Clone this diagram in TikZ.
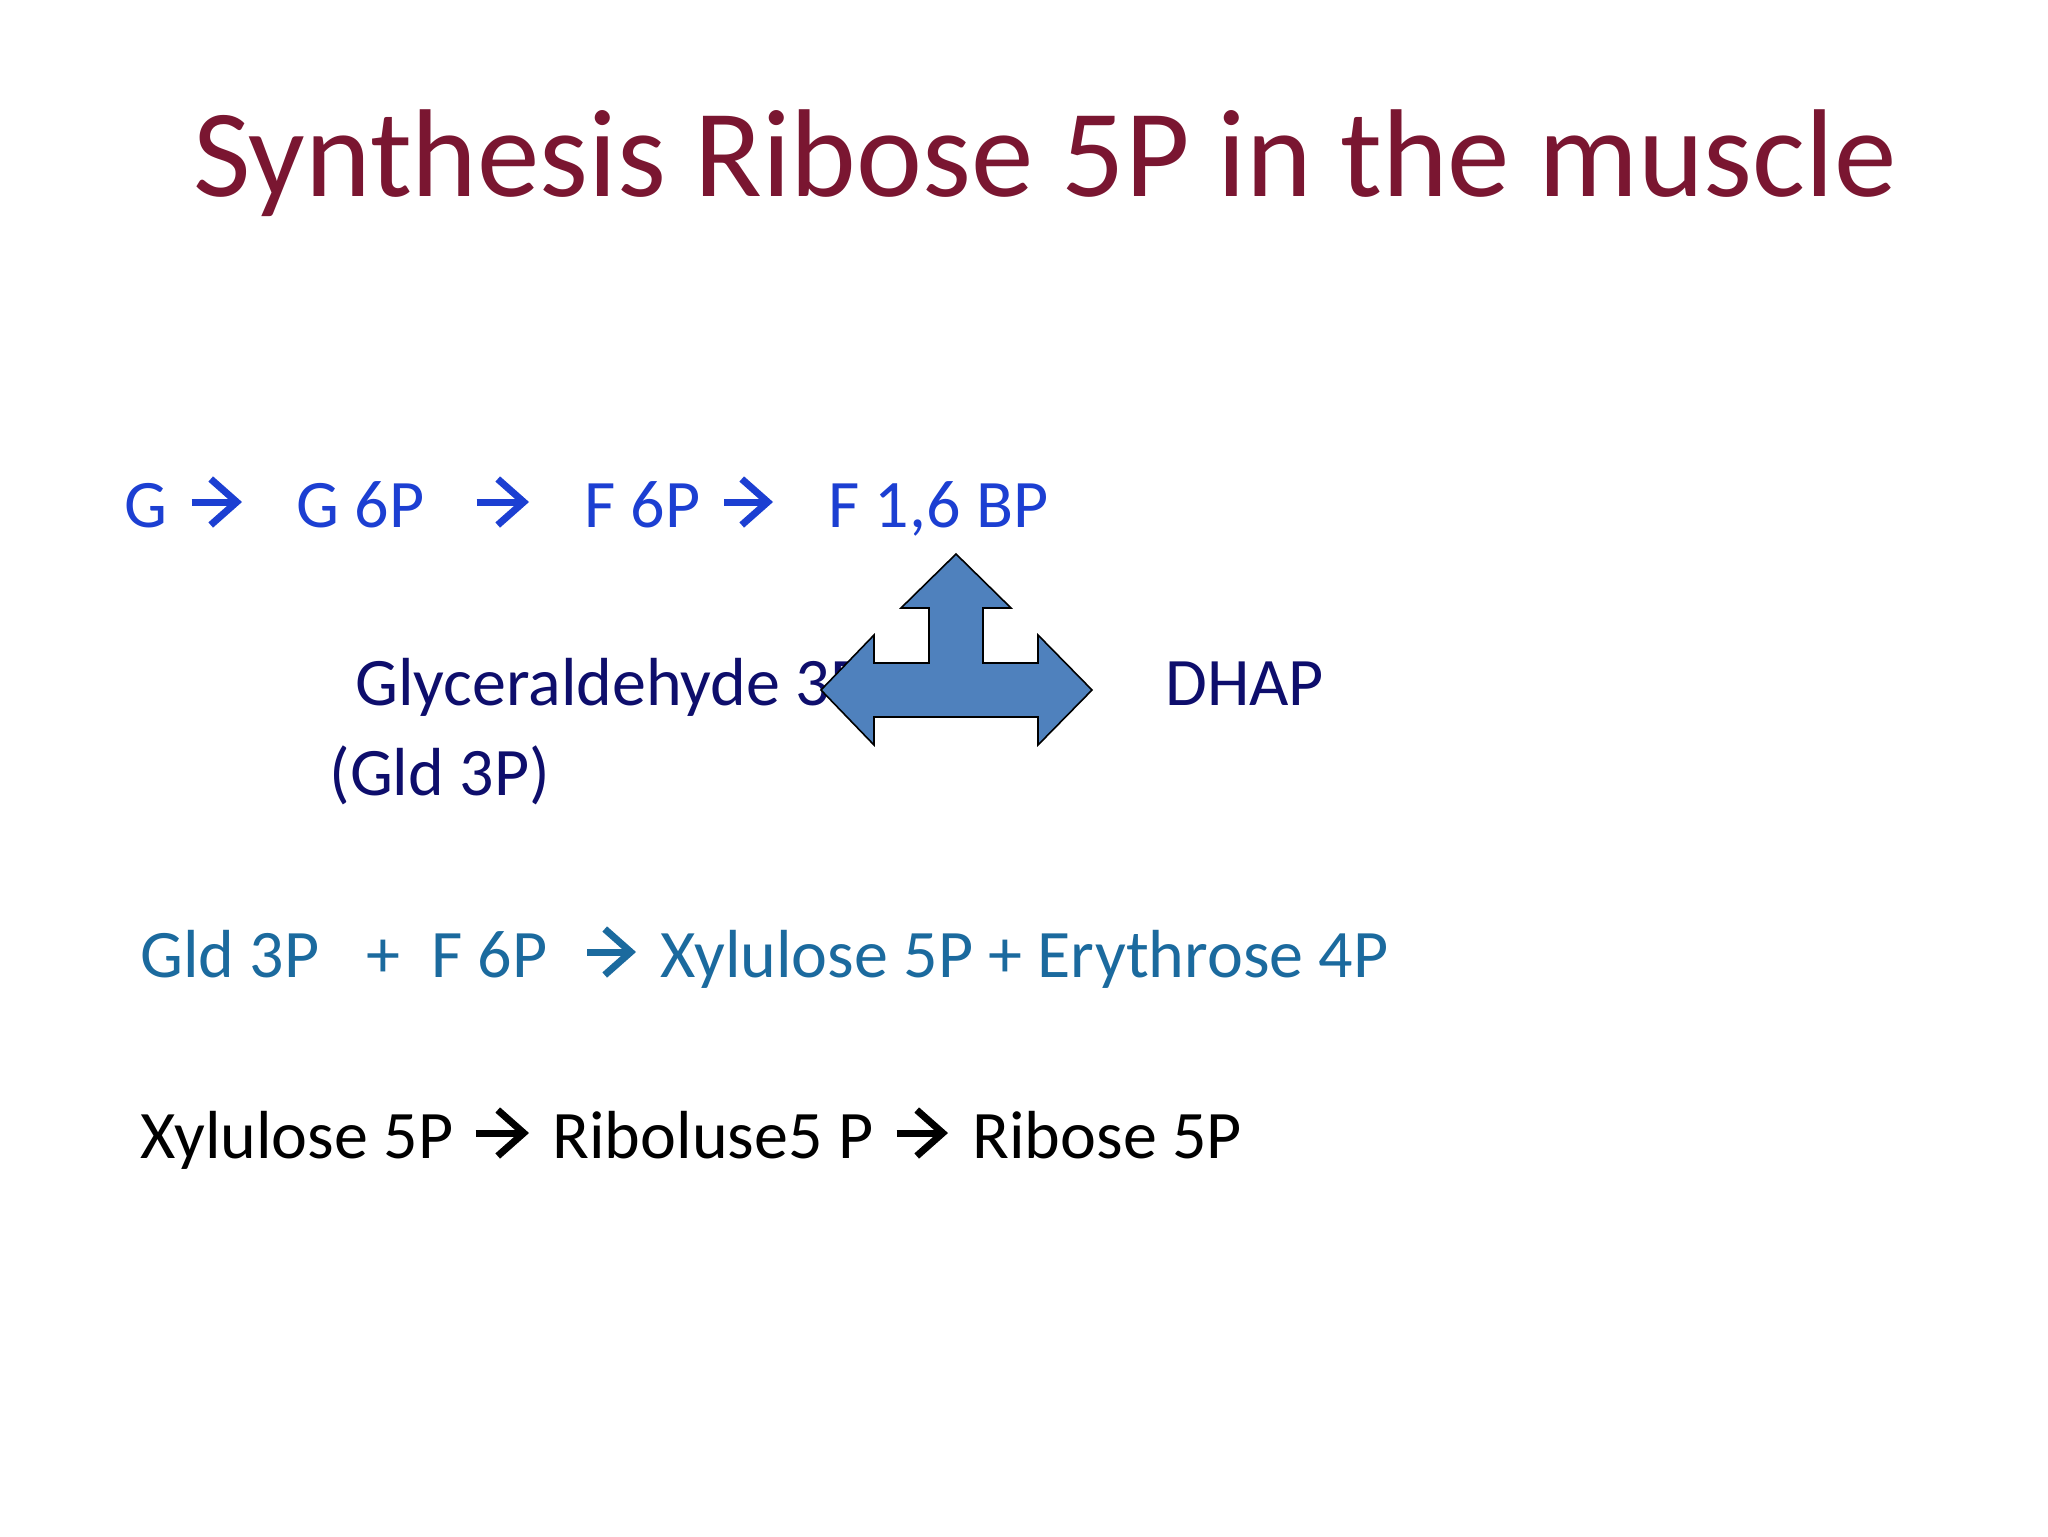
\documentclass[tikz,border=0pt]{standalone}
\usepackage{fontspec}
\setmainfont{Carlito}
\usepackage{xcolor}
\usepackage{tikz}
\usetikzlibrary{arrows.meta}
\definecolor{titlered}{HTML}{7A1631}
\definecolor{glycblue}{HTML}{1C3FD2}
\definecolor{navy}{HTML}{0E0E6C}
\definecolor{pentose}{HTML}{1B6A9E}
\definecolor{shapefill}{HTML}{4F81BD}

\begin{document}
\begin{tikzpicture}[
  x=0.5pt,y=-0.5pt,
  chem/.style={anchor=base west,inner sep=0pt,text height=25pt,text depth=0pt,
               font=\fontsize{34}{40}\selectfont},
  rxn/.style={-{Straight Barb[length=13pt,width=23pt]},line width=3.5pt},
  blockarrow/.style={fill=shapefill,draw=black,line width=0.8pt,line join=miter}
]
\fill[white] (0,0) rectangle (2048,1536);
\useasboundingbox (0,0) rectangle (2048,1536);

\node[anchor=base,inner sep=0pt,text=titlered,font=\fontsize{62.5}{75}\selectfont]
  (title) at (1045,196) {Synthesis Ribose 5P in the muscle};

% glycolysis row
\node[chem,text=glycblue] (g)     at (124,527) {G};
\node[chem,text=glycblue] (gsixp) at (296,527) {G 6P};
\node[chem,text=glycblue] (fsixp) at (584,527) {F 6P};
\node[chem,text=glycblue] (fbp)   at (828,527) {F 1,6 BP};
\draw[rxn,glycblue,shorten <=12pt,shorten >=27pt] (g) -- (gsixp);
\draw[rxn,glycblue,shorten <=26pt,shorten >=27.5pt] (gsixp) -- (fsixp);
\draw[rxn,glycblue,shorten <=11.5pt,shorten >=27.5pt] (fsixp) -- (fbp);

% cleavage products
\node[chem,text=navy] (gldthreep) at (355,705) {Glyceraldehyde 3P};
\node[chem,text=navy] (gldabbr)   at (329,795) {(Gld 3P)};
\node[chem,text=navy] (dhap)      at (1165,705) {DHAP};

\draw[blockarrow,shift={(956,690)}]
  (0,-136) -- (55,-82) -- (27,-82) -- (27,-27) -- (82,-27) -- (82,-55) -- (136,0)
  -- (82,55) -- (82,27) -- (-82,27) -- (-82,55) -- (-135,0) -- (-82,-55)
  -- (-82,-27) -- (-27,-27) -- (-27,-82) -- (-55,-82) -- cycle;

% transketolase row
\node[chem,text=pentose] (gld)   at (140,977) {Gld 3P};
\node[chem,text=pentose] (plus)  at (366,977) {+};
\node[chem,text=pentose] (fsix)  at (431,977) {F 6P};
\node[chem,text=pentose] (xyle)  at (660,977) {Xylulose 5P + Erythrose 4P};
\draw[rxn,pentose,shorten <=19.5pt,shorten >=12pt] (fsix) -- (xyle);

% isomerisation row
\node[chem] (xyl)  at (140,1158) {Xylulose 5P};
\node[chem] (ribu) at (552,1158) {Riboluse5 P};
\node[chem] (ribo) at (972,1158) {Ribose 5P};
\draw[rxn,shorten <=11pt,shorten >=11.5pt] (xyl) -- (ribu);
\draw[rxn,shorten <=11.5pt,shorten >=12pt] (ribu) -- (ribo);
\end{tikzpicture}
\end{document}
